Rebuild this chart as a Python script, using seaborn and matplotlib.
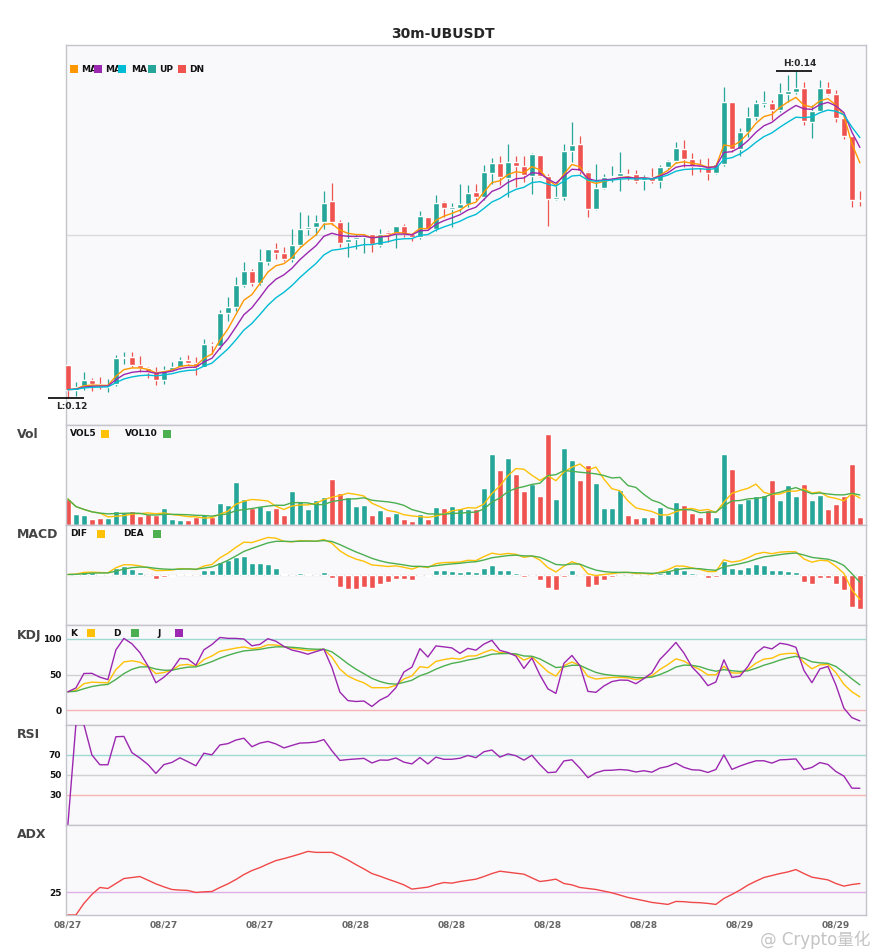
import numpy as np
import pandas as pd
import matplotlib
matplotlib.use("Agg")
import matplotlib.pyplot as plt
from matplotlib.patches import Rectangle
import seaborn as sns

# ---- values: 100 half-hour candles of UB/USDT ----
symbol = "30m-UBUSDT"

open_ = [0.12202, 0.12052, 0.12072, 0.12112, 0.12088, 0.12066, 0.12086, 0.12240, 0.12250, 0.12202,
         0.12182, 0.12156, 0.12112, 0.12172, 0.12190, 0.12232, 0.12212, 0.12190, 0.12328, 0.12316,
         0.12512, 0.12550, 0.12676, 0.12760, 0.12688, 0.12816, 0.12892, 0.12868, 0.12832, 0.12916,
         0.13012, 0.13024, 0.13054, 0.13180, 0.13054, 0.12936, 0.12952, 0.12966, 0.12986, 0.12918,
         0.12994, 0.12990, 0.13030, 0.12984, 0.12964, 0.13084, 0.13014, 0.13174, 0.13136, 0.13140,
         0.13164, 0.13234, 0.13204, 0.13348, 0.13408, 0.13320, 0.13414, 0.13390, 0.13334, 0.13456,
         0.13332, 0.13192, 0.13204, 0.13480, 0.13522, 0.13354, 0.13132, 0.13258, 0.13326, 0.13330,
         0.13344, 0.13342, 0.13310, 0.13326, 0.13300, 0.13384, 0.13422, 0.13492, 0.13432, 0.13396,
         0.13386, 0.13348, 0.13402, 0.13774, 0.13494, 0.13594, 0.13684, 0.13766, 0.13768, 0.13726,
         0.13826, 0.13838, 0.13858, 0.13656, 0.13720, 0.13858, 0.13822, 0.13678, 0.13570, 0.13186]

high = [0.12202, 0.12100, 0.12160, 0.12120, 0.12126, 0.12116, 0.12260, 0.12280, 0.12276, 0.12256,
        0.12186, 0.12190, 0.12194, 0.12220, 0.12250, 0.12262, 0.12246, 0.12356, 0.12336, 0.12532,
        0.12606, 0.12726, 0.12816, 0.12776, 0.12892, 0.12896, 0.12932, 0.12906, 0.13012, 0.13116,
        0.13096, 0.13100, 0.13240, 0.13288, 0.13070, 0.13054, 0.12986, 0.12986, 0.12986, 0.13016,
        0.13000, 0.13030, 0.13042, 0.12990, 0.13124, 0.13084, 0.13216, 0.13180, 0.13168, 0.13282,
        0.13276, 0.13282, 0.13396, 0.13440, 0.13450, 0.13522, 0.13450, 0.13450, 0.13470, 0.13456,
        0.13346, 0.13272, 0.13522, 0.13654, 0.13570, 0.13360, 0.13402, 0.13346, 0.13392, 0.13474,
        0.13372, 0.13366, 0.13336, 0.13380, 0.13396, 0.13426, 0.13534, 0.13546, 0.13470, 0.13434,
        0.13438, 0.13410, 0.13864, 0.13774, 0.13620, 0.13744, 0.13786, 0.13840, 0.13786, 0.13890,
        0.13936, 0.13960, 0.13894, 0.13756, 0.13906, 0.13894, 0.13846, 0.13686, 0.13570, 0.13240]

low = [0.12000, 0.12012, 0.12052, 0.12046, 0.12056, 0.12036, 0.12072, 0.12206, 0.12186, 0.12156,
       0.12120, 0.12080, 0.12086, 0.12166, 0.12176, 0.12202, 0.12140, 0.12186, 0.12266, 0.12296,
       0.12462, 0.12526, 0.12666, 0.12672, 0.12676, 0.12796, 0.12836, 0.12822, 0.12818, 0.12906,
       0.12976, 0.12976, 0.13016, 0.13040, 0.12906, 0.12846, 0.12896, 0.12870, 0.12876, 0.12906,
       0.12936, 0.12900, 0.12966, 0.12942, 0.12956, 0.13006, 0.13002, 0.13086, 0.13026, 0.13116,
       0.13146, 0.13186, 0.13186, 0.13286, 0.13276, 0.13206, 0.13266, 0.13296, 0.13226, 0.13326,
       0.13030, 0.13186, 0.13186, 0.13416, 0.13346, 0.13086, 0.13126, 0.13256, 0.13296, 0.13240,
       0.13306, 0.13290, 0.13246, 0.13292, 0.13260, 0.13374, 0.13412, 0.13386, 0.13336, 0.13354,
       0.13306, 0.13346, 0.13392, 0.13476, 0.13452, 0.13566, 0.13666, 0.13746, 0.13666, 0.13716,
       0.13776, 0.13826, 0.13636, 0.13560, 0.13714, 0.13816, 0.13656, 0.13556, 0.13146, 0.13152]

close = [0.12052, 0.12066, 0.12112, 0.12088, 0.12076, 0.12076, 0.12244, 0.12250, 0.12202, 0.12182,
         0.12156, 0.12112, 0.12172, 0.12190, 0.12232, 0.12212, 0.12190, 0.12328, 0.12318, 0.12512,
         0.12550, 0.12676, 0.12760, 0.12688, 0.12820, 0.12894, 0.12870, 0.12832, 0.12916, 0.13012,
         0.13024, 0.13054, 0.13170, 0.13054, 0.12930, 0.12952, 0.12966, 0.12980, 0.12924, 0.12986,
         0.12984, 0.13030, 0.12984, 0.12964, 0.13090, 0.13014, 0.13168, 0.13140, 0.13142, 0.13164,
         0.13228, 0.13204, 0.13354, 0.13408, 0.13326, 0.13414, 0.13392, 0.13338, 0.13462, 0.13332,
         0.13192, 0.13204, 0.13480, 0.13516, 0.13360, 0.13132, 0.13258, 0.13324, 0.13330, 0.13348,
         0.13336, 0.13300, 0.13326, 0.13300, 0.13384, 0.13422, 0.13498, 0.13432, 0.13392, 0.13386,
         0.13350, 0.13402, 0.13774, 0.13494, 0.13594, 0.13684, 0.13768, 0.13770, 0.13726, 0.13828,
         0.13840, 0.13858, 0.13664, 0.13720, 0.13858, 0.13822, 0.13678, 0.13570, 0.13186, 0.13182]

# relative volume (no scale is shown on the chart)
volume = [76, 31, 28, 16, 19, 20, 40, 37, 40, 25,
          31, 27, 49, 16, 13, 13, 23, 31, 22, 64,
          58, 127, 76, 48, 55, 44, 49, 28, 100, 70,
          46, 73, 82, 136, 94, 82, 55, 58, 28, 43,
          25, 34, 16, 10, 31, 16, 52, 49, 55, 49,
          46, 46, 109, 211, 163, 199, 151, 100, 121, 85,
          271, 76, 229, 193, 133, 178, 124, 49, 49, 103,
          28, 19, 22, 22, 52, 28, 67, 58, 34, 22,
          43, 22, 211, 166, 64, 76, 85, 88, 133, 73,
          118, 85, 121, 73, 88, 46, 61, 85, 181, 22]

# ADX as drawn in the bottom panel
adx = [0.0, 0.0, 12.8, 22.7, 30.4, 29.3, 34.8, 40.3, 41.4, 42.5,
       38.5, 34.4, 31.1, 28.2, 27.5, 27.1, 24.9, 25.6, 26.0, 30.4,
       34.4, 39.2, 44.7, 49.1, 52.4, 56.4, 60.1, 62.3, 64.8, 67.4,
       70.3, 69.2, 69.2, 69.2, 65.2, 60.8, 55.7, 50.9, 45.8, 42.9,
       39.6, 36.6, 33.3, 28.6, 29.7, 30.8, 33.7, 35.9, 35.2, 37.0,
       38.3, 39.6, 42.5, 45.8, 48.4, 47.3, 46.2, 45.1, 41.0, 37.0,
       38.1, 39.6, 34.8, 33.3, 30.4, 29.3, 28.2, 26.4, 24.5, 22.0,
       19.4, 17.6, 15.8, 13.9, 12.8, 11.7, 15.0, 14.7, 13.9, 13.6,
       12.8, 11.7, 18.3, 22.7, 27.5, 33.0, 37.4, 41.4, 43.6, 45.8,
       47.6, 50.2, 45.8, 41.8, 40.3, 38.8, 34.8, 31.9, 33.7, 34.8]

date_labels = ["08/27", "08/27", "08/27", "08/28", "08/28", "08/28", "08/28", "08/29", "08/29"]

UP = "#26A69A"
DN = "#EF5350"
YEL = "#FFC107"
GRN = "#4CAF50"
PUR = "#9C27B0"

# ---- indicators (fast settings, matched to the chart) ----
df = pd.DataFrame({"open": open_, "high": high, "low": low, "close": close, "volume": volume})
n = len(df)
x = np.arange(n)

ema_a = df.close.ewm(span=5, adjust=False).mean()
ema_b = df.close.ewm(span=8, adjust=False).mean()
ema_c = df.close.ewm(span=13, adjust=False).mean()

vol5 = df.volume.rolling(5, min_periods=1).mean()
vol10 = df.volume.rolling(10, min_periods=1).mean()

dif = df.close.ewm(span=6, adjust=False).mean() - df.close.ewm(span=13, adjust=False).mean()
dea = dif.ewm(span=5, adjust=False).mean()
macd = 2 * (dif - dea)

low9 = df.low.rolling(9, min_periods=1).min()
high9 = df.high.rolling(9, min_periods=1).max()
rsv = (df.close - low9) / (high9 - low9) * 100
k = rsv.ewm(com=2, adjust=False).mean()
d = k.ewm(com=2, adjust=False).mean()
j = 3 * k - 2 * d

delta = df.close.diff()
gain = delta.clip(lower=0).ewm(alpha=1 / 14).mean()
loss = (-delta.clip(upper=0)).ewm(alpha=1 / 14).mean()
rsi = (100 - 100 / (1 + gain / loss)).fillna(0)

colors = np.where(df.close >= df.open, UP, DN)

# ---- figure ----
sns.set_theme(style="white")
plt.rcParams["font.family"] = ["DejaVu Sans", "Noto Sans CJK SC"]
plt.rcParams["font.weight"] = "bold"

W, H = 885, 950
fig = plt.figure(figsize=(W / 100, H / 100), dpi=100)
left, right = 65.5, 865.5
edges = [45, 424.5, 524.5, 624.5, 724.5, 824.5, 915]
axes = []
for top, bot in zip(edges[:-1], edges[1:]):
    ax = fig.add_axes([left / W, 1 - bot / H, (right - left) / W, (bot - top) / H])
    ax.set_facecolor("#F9F9FB")
    for s in ax.spines.values():
        s.set_color("#C4C4CC")
        s.set_linewidth(1)
    ax.set_xticks([])
    ax.set_yticks([])
    axes.append(ax)
ax_k, ax_v, ax_m, ax_kdj, ax_rsi, ax_adx = axes


def line(ax, y, color, lw=1.0):
    sns.lineplot(x=x, y=np.asarray(y), ax=ax, color=color, linewidth=lw, legend=False, zorder=4)


# candles
ax_k.vlines(x, df.low, df.high, colors=colors, lw=0.9, zorder=2)
lo, hi = df.low.min(), df.high.max()
rng = hi - lo
body = (df.close - df.open).abs().clip(lower=rng * 0.004)
ax_k.bar(x, body, bottom=np.minimum(df.open, df.close), width=0.72, color=colors, zorder=3)
line(ax_k, ema_a, "#FF9800")
line(ax_k, ema_b, PUR)
line(ax_k, ema_c, "#00BCD4")
ax_k.set_ylim(lo - 0.08 * rng, hi + 0.08 * rng)
ax_k.set_yticks([(lo + hi) / 2])
ax_k.tick_params(axis="y", left=False, labelleft=False)
ax_k.yaxis.grid(True, color="#DADADA", lw=1)

ihi, ilo = int(df.high.idxmax()), int(df.low.idxmin())
ax_k.hlines(hi, ihi - 2.5, ihi + 2, color="black", lw=1.2, clip_on=False, zorder=5)
ax_k.annotate(f"H:{hi:.2f}", (ihi + 0.5, hi), xytext=(0, 2), textcoords="offset points",
              ha="center", va="bottom", fontsize=6.5, fontweight="bold")
ax_k.hlines(lo, ilo - 2.5, ilo + 2, color="black", lw=1.2, clip_on=False, zorder=5)
ax_k.annotate(f"L:{lo:.2f}", (ilo + 0.5, lo), xytext=(0, -3), textcoords="offset points",
              ha="center", va="top", fontsize=6.5, fontweight="bold", annotation_clip=False)

# volume
ax_v.bar(x, df.volume, width=0.75, color=colors, zorder=2)
line(ax_v, vol5, YEL)
line(ax_v, vol10, GRN)
ax_v.set_ylim(0, df.volume.max() * 1.1)

# macd
ax_m.axhline(0, color="#DDDDDD", lw=1, zorder=1)
ax_m.bar(x, macd, width=0.75, color=np.where(macd >= 0, UP, DN), zorder=2)
line(ax_m, dif, YEL)
line(ax_m, dea, GRN)
mlim = max(macd.abs().max(), dif.abs().max(), dea.abs().max()) * 1.35
ax_m.set_ylim(-mlim, mlim)

# kdj
for yv, c in [(100, "#9ED9D2"), (50, "#D0D0D0"), (0, "#F7B3B3")]:
    ax_kdj.axhline(yv, color=c, lw=1, zorder=1)
line(ax_kdj, k, YEL)
line(ax_kdj, d, GRN)
line(ax_kdj, j, PUR)
ax_kdj.set_ylim(-20, 120)
ax_kdj.set_yticks([0, 50, 100])

# rsi
for yv, c in [(70, "#9ED9D2"), (50, "#D0D0D0"), (30, "#F7B3B3")]:
    ax_rsi.axhline(yv, color=c, lw=1, zorder=1)
line(ax_rsi, rsi, PUR)
ax_rsi.set_ylim(0, 100)
ax_rsi.set_yticks([30, 50, 70])

# adx
ax_adx.axhline(25, color="#DDB0E6", lw=1, zorder=1)
line(ax_adx, adx, "#F04848")
ax_adx.set_ylim(0, 100)
ax_adx.set_yticks([25])

for ax in (ax_kdj, ax_rsi, ax_adx):
    ax.tick_params(axis="y", length=0, pad=3, labelsize=6.5, labelcolor="#111111")
ax_adx.set_xticks(range(0, n, 12))
ax_adx.set_xticklabels(date_labels)
ax_adx.tick_params(axis="x", length=0, pad=4, labelsize=6.5, labelcolor="#666666")
for ax in axes:
    ax.set_xlim(-0.3, n - 0.3)
    ax.set_xlabel("")
    ax.set_ylabel("")

# titles, panel names and legends (pixel positions)
fig.text(443 / W, 1 - 34 / H, symbol, ha="center", va="center", fontsize=10, fontweight="bold")
for name, py in [("Vol", 435), ("MACD", 535), ("KDJ", 635), ("RSI", 735), ("ADX", 835)]:
    fig.text(17 / W, 1 - py / H, name, ha="left", va="center", fontsize=9, fontweight="bold", color="#444444")


def legend(items, py):
    for label, color, tx, bx in items:
        fig.text(tx / W, 1 - py / H, label, ha="left", va="center", fontsize=6.5,
                 fontweight="bold", color="#111111", zorder=4)
        fig.patches.append(Rectangle((bx / W, 1 - (py + 4) / H), 8 / W, 8 / H, transform=fig.transFigure,
                                     facecolor=color, edgecolor="none", zorder=5))


legend([("MA", "#FF9800", 81, 70), ("MA", PUR, 105, 94), ("MA", "#00BCD4", 131, 118),
        ("UP", UP, 159, 148), ("DN", DN, 189, 178)], 69)
legend([("VOL5", YEL, 70, 101), ("VOL10", GRN, 125, 163)], 434)
legend([("DIF", YEL, 70, 97), ("DEA", GRN, 123, 153)], 534)
legend([("K", YEL, 70, 87), ("D", GRN, 113, 131), ("J", PUR, 157, 175)], 633)

# watermark of the source page, kept just below the date labels
fig.text(815 / W, 1 - 940 / H, "@ Crypto量化", ha="center", va="center", fontsize=12,
         fontweight="normal", color="#C4C4C4", family=["DejaVu Sans", "Noto Sans CJK SC"])

fig.savefig("out.png", dpi=100, facecolor="white")
